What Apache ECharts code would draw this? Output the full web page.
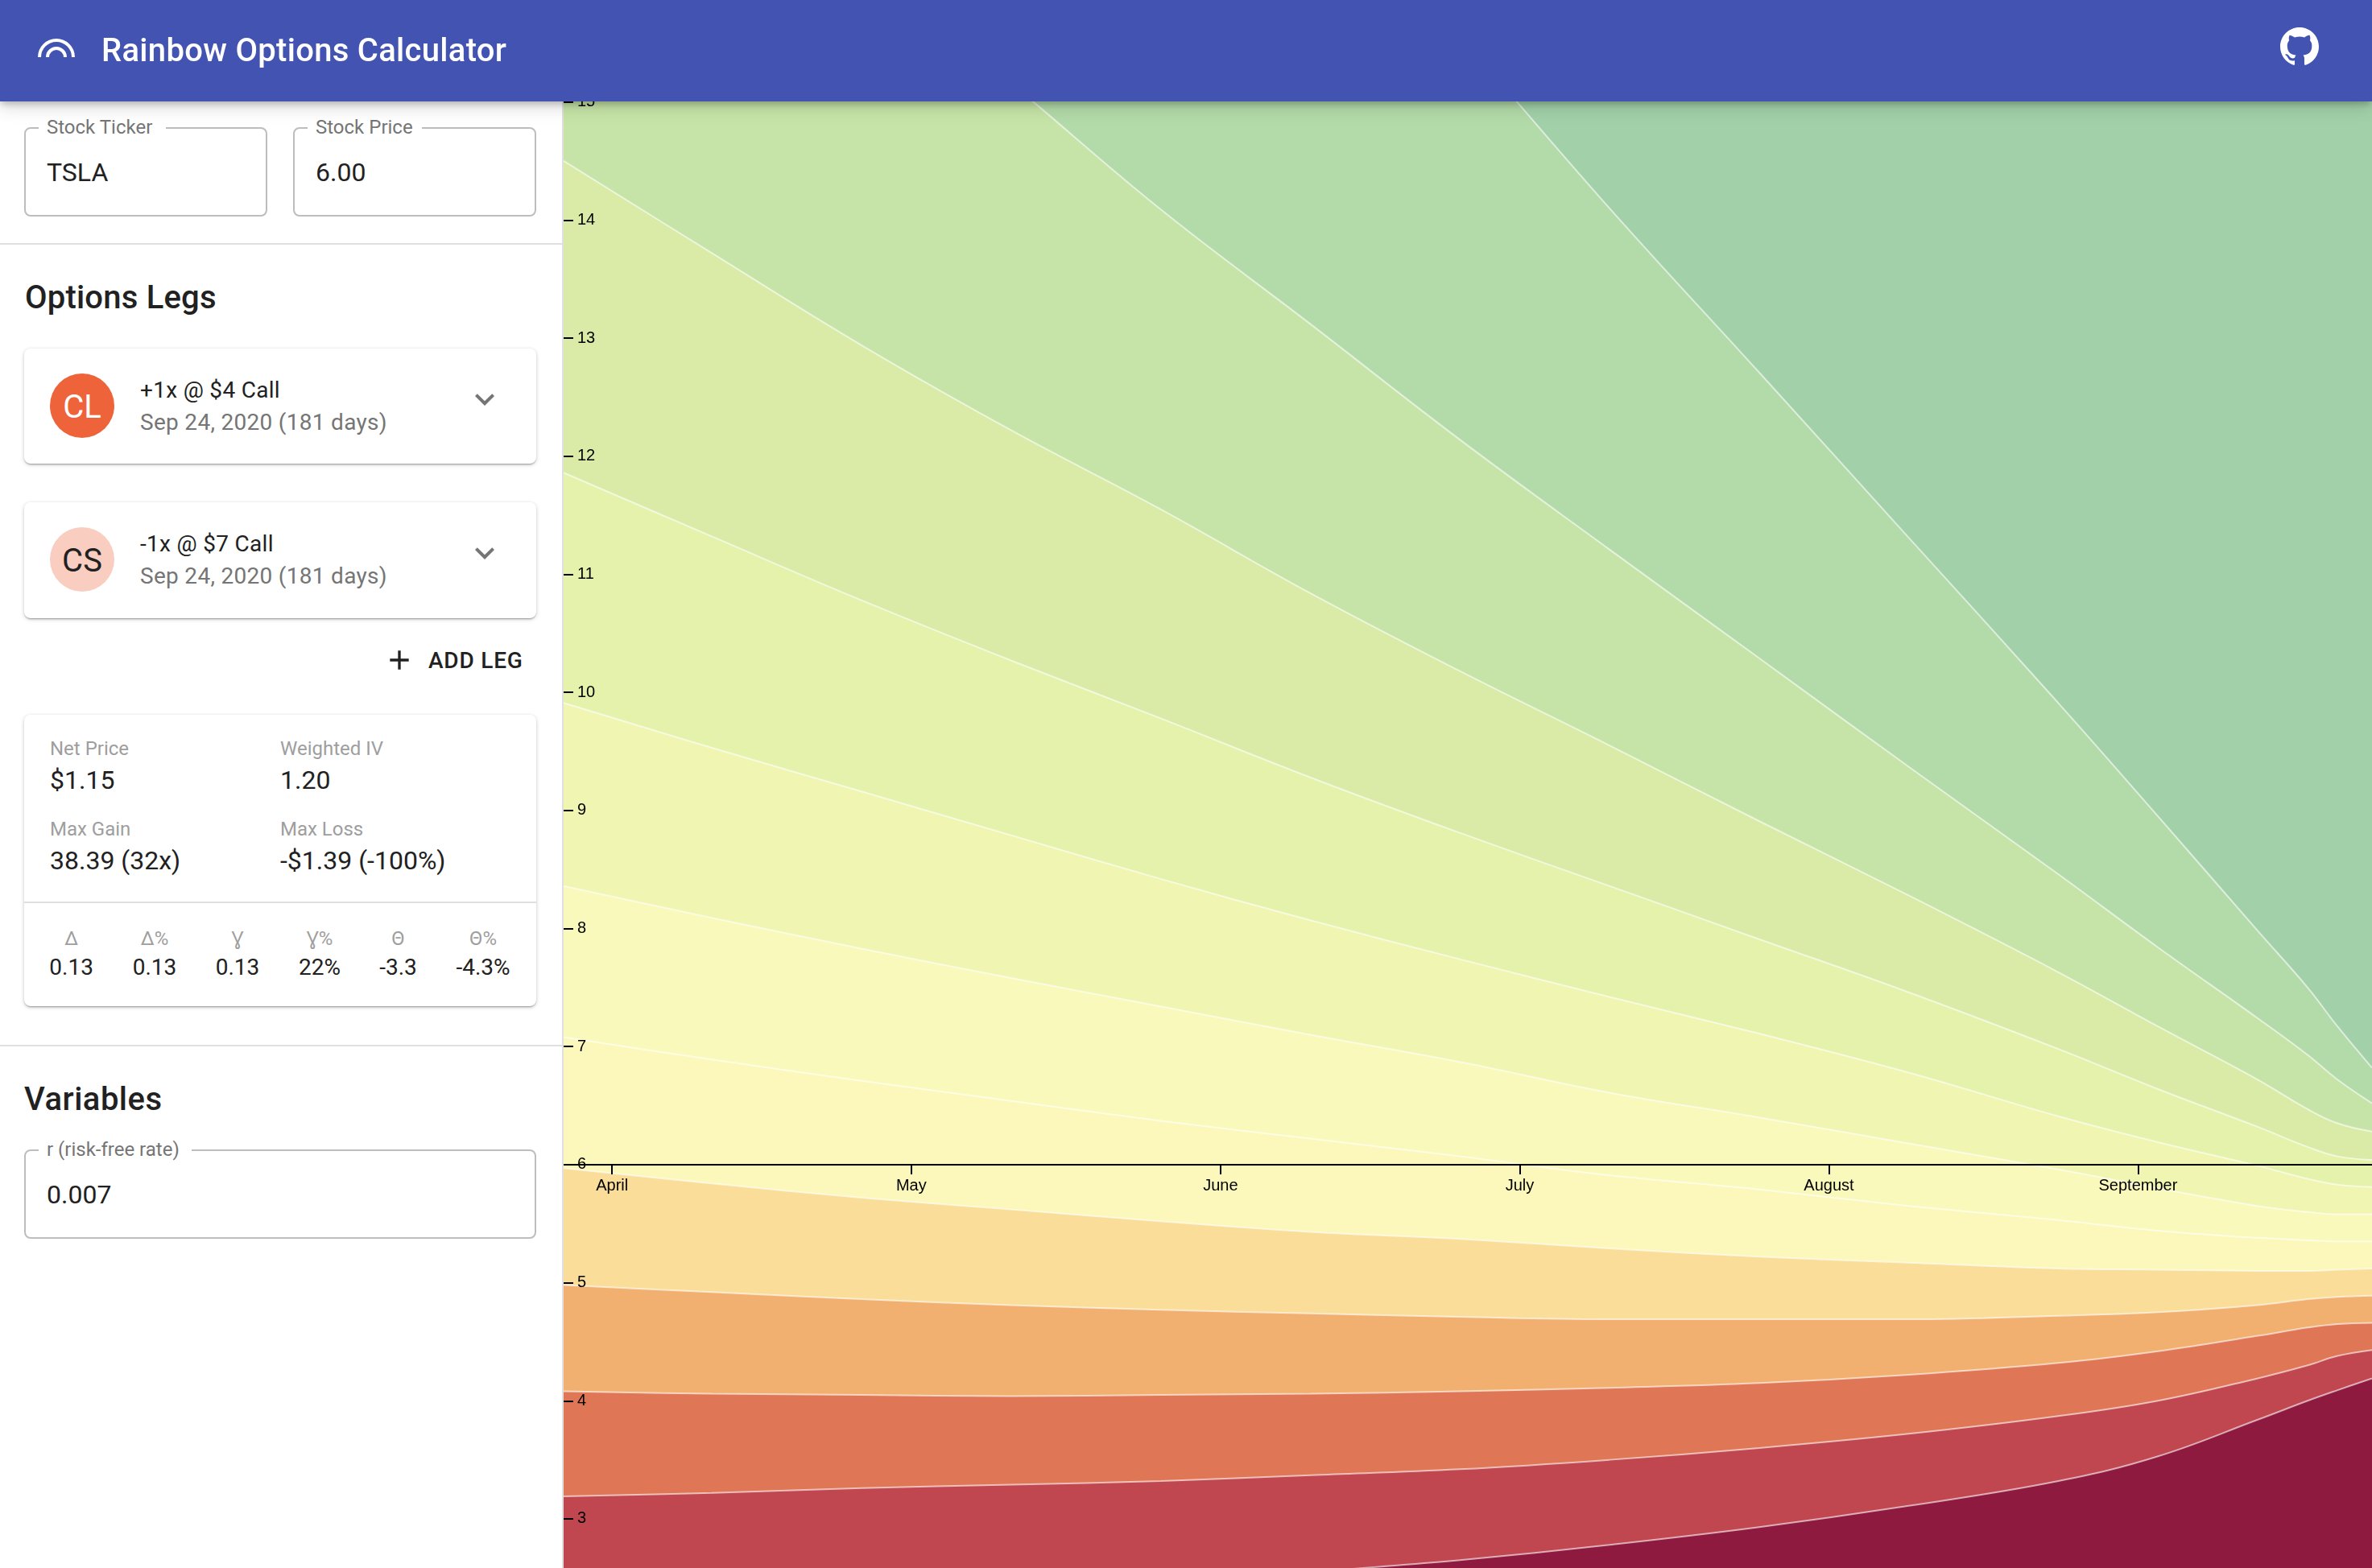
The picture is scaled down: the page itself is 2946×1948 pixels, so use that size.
<!DOCTYPE html>
<html>
<head>
<meta charset="utf-8">
<title>Rainbow Options Calculator</title>
<script src="https://cdn.jsdelivr.net/npm/echarts@6/dist/echarts.min.js"></script>
<style>
html,body{margin:0;padding:0;width:2946px;height:1948px;overflow:hidden;background:#fff;font-family:Roboto,sans-serif;color:#212121}
#chart{position:absolute;left:0;top:0;width:2946px;height:1948px}
#side{position:absolute;left:0;top:0;width:698px;height:1948px;background:#fff;border-right:2px solid #e0e0e0}
#head{position:absolute;left:0;top:0;width:2946px;height:126px;background:#4253b1;box-shadow:0 4px 8px -1px rgba(0,0,0,.22),0 8px 20px 0 rgba(0,0,0,.14)}
.t{position:absolute;white-space:nowrap;transform:translateY(-50%);line-height:1}
.c{transform:translate(-50%,-50%)}
.box{position:absolute;border:2px solid #bdbdbd;border-radius:8px;box-sizing:border-box}
.gap{position:absolute;height:6px;background:#fff}
.card{position:absolute;left:30px;width:636px;background:#fff;border-radius:8px;box-shadow:0 2px 2px -1px rgba(0,0,0,.3),0 1px 4px 0 rgba(0,0,0,.14),0 2px 6px 0 rgba(0,0,0,.08)}
.div{position:absolute;height:2px;background:#e0e0e0}
.av{position:absolute;left:62px;width:80px;height:80px;border-radius:50%;display:flex;align-items:center;justify-content:center;font-size:40px;padding-top:2px;box-sizing:border-box}
svg{position:absolute}
</style>
</head>
<body>
<div id="chart"></div>
<div id="side"></div>
<div id="head">
  <svg style="left:47px;top:46px" width="46" height="30" viewBox="0 0 46 30" fill="none" stroke="#fff" stroke-width="4"><path d="M2 25 A21 21 0 0 1 44 25"/><path d="M12 25 A11 11 0 0 1 34 25"/></svg>
  <div class="t" style="left:126px;top:63px;font-size:40px;font-weight:500;color:#fff;letter-spacing:.3px">Rainbow Options Calculator</div>
  <svg style="left:2832px;top:34px" width="48" height="48" viewBox="0 0 16 16" fill="#fff"><path d="M8 0C3.58 0 0 3.58 0 8c0 3.54 2.29 6.53 5.47 7.59.4.07.55-.17.55-.38 0-.19-.01-.82-.01-1.49-2.01.37-2.53-.49-2.69-.94-.09-.23-.48-.94-.82-1.13-.28-.15-.68-.52-.01-.53.63-.01 1.08.58 1.23.82.72 1.21 1.87.87 2.33.66.07-.52.28-.87.51-1.07-1.78-.2-3.64-.89-3.64-3.95 0-.87.31-1.59.82-2.15-.08-.2-.36-1.02.08-2.12 0 0 .67-.21 2.2.82.64-.18 1.32-.27 2-.27.68 0 1.36.09 2 .27 1.53-1.04 2.2-.82 2.2-.82.44 1.1.16 1.92.08 2.12.51.56.82 1.27.82 2.15 0 3.07-1.87 3.75-3.65 3.95.29.25.54.73.54 1.48 0 1.07-.01 1.93-.01 2.2 0 .21.15.46.55.38A8.013 8.013 0 0016 8c0-4.42-3.58-8-8-8z"/></svg>
</div>
<script>
// ---------- chart data ----------
const dates = ['2020-03-27T03:20','2020-04-11T00:00','2020-04-26T00:00','2020-05-11T00:00','2020-05-26T00:00','2020-06-10T00:00','2020-06-25T00:00','2020-07-10T00:00','2020-07-25T00:00','2020-08-09T00:00','2020-08-24T00:00','2020-09-03T00:00','2020-09-13T00:00','2020-09-18T00:00','2020-09-21T00:00','2020-09-24T11:00'];
const monthTicks = ['2020-04-01T00:00','2020-05-01T00:00','2020-06-01T00:00','2020-07-01T00:00','2020-08-01T00:00','2020-09-01T00:00'];
const monthNames = ['January','February','March','April','May','June','July','August','September','October','November','December'];
const priceTicks = [3,4,5,6,7,8,9,10,11,12,13,14,15];
const lineA = [23.8,22.5,21.2,19.8,18.4,17.00,15.56,14.10,12.71,11.31,9.91,8.95,7.98,7.50,7.17,6.82];
const lineB = [18.4,17.3,16.2,15.16,14.09,13.12,12.14,11.21,10.29,9.37,8.46,7.84,7.24,6.93,6.72,6.52];
const lineC = [14.50,13.72,12.94,12.22,11.55,10.84,10.18,9.55,8.91,8.28,7.63,7.17,6.72,6.47,6.35,6.28];
const lineD = [11.86,11.32,10.78,10.27,9.78,9.28,8.81,8.36,7.91,7.46,6.98,6.64,6.32,6.15,6.07,6.04];
const lineE = [9.91,9.53,9.16,8.79,8.42,8.07,7.74,7.42,7.11,6.78,6.41,6.19,5.99,5.88,5.83,5.81];
const lineF = [8.36,8.09,7.83,7.58,7.34,7.10,6.87,6.61,6.40,6.18,5.96,5.80,5.65,5.60,5.58,5.58];
const lineG = [7.08,6.89,6.71,6.54,6.37,6.22,6.07,5.91,5.79,5.65,5.53,5.44,5.38,5.36,5.35,5.35];
const lineH = [5.97,5.84,5.72,5.62,5.52,5.43,5.37,5.29,5.22,5.17,5.12,5.11,5.10,5.10,5.11,5.12];
const lineI = [4.98,4.92,4.86,4.81,4.77,4.74,4.71,4.69,4.69,4.69,4.72,4.75,4.81,4.86,4.88,4.89];
const lineJ = [4.08,4.06,4.05,4.04,4.05,4.06,4.08,4.11,4.15,4.22,4.32,4.42,4.55,4.62,4.65,4.66];
const lineK = [3.19,3.22,3.26,3.29,3.32,3.37,3.42,3.50,3.60,3.72,3.87,4.00,4.19,4.30,4.38,4.43];
const lineL = [1.7,1.9,2.05,2.2,2.35,2.54,2.65,2.78,2.93,3.11,3.32,3.53,3.84,4.00,4.09,4.19];
const boundaries = [lineA,lineB,lineC,lineD,lineE,lineF,lineG,lineH,lineI,lineJ,lineK,lineL];
const topColor = '#a2d1a9';
const bandColors = ['#b3daa9','#c6e4a7','#d9eba6','#e5f2ac','#f0f5b2','#f9f9bb','#fcf8bb','#fadd98','#f2b070','#df7655','#c04650','#8e1a40'];

const ms = s => new Date(s).getTime();
const chart = echarts.init(document.getElementById('chart'), null, {renderer:'canvas'});
chart.setOption({
  animation:false,
  grid:{left:700,right:0,top:0,bottom:0,show:true,backgroundColor:topColor,borderWidth:0},
  xAxis:{
    type:'value',position:'bottom',offset:-501,z:10,scale:true,
    min:ms(dates[0]),max:ms(dates[dates.length-1]),
    axisLine:{show:true,onZero:false,lineStyle:{color:'#000',width:2}},
    axisTick:{show:true,length:12,lineStyle:{color:'#000',width:2},customValues:monthTicks.map(ms)},
    axisLabel:{show:true,margin:16,color:'#000',fontSize:20,fontFamily:'Liberation Sans',hideOverlap:false,
      customValues:monthTicks.map(ms),
      formatter:v=>monthNames[new Date(v).getMonth()]},
    splitLine:{show:false},minorTick:{show:false}
  },
  yAxis:{
    type:'value',position:'left',z:10,min:2.584,max:15.863,
    axisLine:{show:false,onZero:false},
    axisTick:{show:true,inside:true,length:12,lineStyle:{color:'#000',width:2},customValues:priceTicks},
    axisLabel:{show:true,inside:true,margin:17,color:'#000',fontSize:20,fontFamily:'Liberation Sans',hideOverlap:false,customValues:priceTicks},
    splitLine:{show:false}
  },
  series:boundaries.map((vals,i)=>({
    type:'line',silent:true,showSymbol:false,symbol:'none',smooth:0.4,
    data:vals.map((v,j)=>[ms(dates[j]),v]),
    lineStyle:{color:'rgba(255,255,255,0.6)',width:2},
    areaStyle:{color:bandColors[i],opacity:1,origin:'start'}
  }))
});

// ---------- sidebar ----------
const side = document.getElementById('side');
function add(html){side.insertAdjacentHTML('beforeend',html)}
function text(s,x,y,size,color,extra){add(`<div class="t" style="left:${x}px;top:${y}px;font-size:${size}px;color:${color||'#212121'};${extra||''}">${s}</div>`)}
function ctext(s,x,y,size,color){add(`<div class="t c" style="left:${x}px;top:${y}px;font-size:${size}px;color:${color||'#212121'}">${s}</div>`)}
function field(label,val,x,y,w,h,gapW){
  add(`<div class="box" style="left:${x}px;top:${y}px;width:${w}px;height:${h}px"></div>`);
  add(`<div class="gap" style="left:${x+18}px;top:${y-2}px;width:${gapW}px"></div>`);
  text(label,x+28,y,24,'#757575');
  text(val,x+28,y+56,32);
}
function chevron(x,y){add(`<svg style="left:${x-24}px;top:${y-24}px" width="48" height="48" viewBox="0 0 24 24" fill="#757575"><path d="M16.59 8.59 12 13.17 7.41 8.59 6 10l6 6 6-6z"/></svg>`)}
function leg(top,h,ab,abBg,abCol,l1,l2){
  add(`<div class="card" style="top:${top}px;height:${h}px"></div>`);
  add(`<div class="av" style="top:${top+31}px;background:${abBg};color:${abCol}">${ab}</div>`);
  text(l1,174,top+52,28,'#212121','letter-spacing:.3px');
  text(l2,174,top+92,28,'#757575','letter-spacing:.3px');
  chevron(602,top+63);
}
field('Stock Ticker','TSLA',30,158,302,111,158);
field('Stock Price','6.00',364,158,302,111,142);
add('<div class="div" style="left:0;top:302px;width:698px"></div>');
text('Options Legs',31,370,40,'#212121','font-weight:500;letter-spacing:.2px');
leg(433,143,'CL','#ee6339','#fff','+1x @ $4 Call','Sep 24, 2020 (181 days)');
leg(624,144,'CS','#f9cdc0','#212121','-1x @ $7 Call','Sep 24, 2020 (181 days)');
add('<svg style="left:476px;top:800px" width="40" height="40" viewBox="0 0 24 24" fill="#212121"><path d="M19 13h-6v6h-2v-6H5v-2h6V5h2v6h6v2z"/></svg>');
text('ADD LEG',532,821,28,'#212121','font-weight:500;letter-spacing:.8px');
add('<div class="card" style="top:888px;height:362px"></div>');
const statLabels=[['Net Price',62,930],['Weighted IV',348,930],['Max Gain',62,1030],['Max Loss',348,1030]];
const statValues=[['$1.15',62,969],['1.20',348,969],['38.39 (32x)',62,1069],['-$1.39 (-100%)',348,1069]];
statLabels.forEach(a=>text(a[0],a[1],a[2],24,'#9e9e9e'));
statValues.forEach(a=>text(a[0],a[1],a[2],32));
add('<div class="div" style="left:30px;top:1120px;width:636px"></div>');
const greekLabels=['Δ','Δ%','Ɣ','Ɣ%','Θ','Θ%'];
const greekValues=['0.13','0.13','0.13','22%','-3.3','-4.3%'];
const greekX=[88.6,192,295,397,494.5,600];
greekLabels.forEach((s,i)=>ctext(s,greekX[i],1166,24,'#9e9e9e'));
greekValues.forEach((s,i)=>ctext(s,greekX[i],1202,28));
add('<div class="div" style="left:0;top:1298px;width:698px"></div>');
text('Variables',30,1366,40,'#212121','font-weight:500;letter-spacing:.5px');
field('r (risk-free rate)','0.007',30,1428,636,111,190);
</script>
</body>
</html>
